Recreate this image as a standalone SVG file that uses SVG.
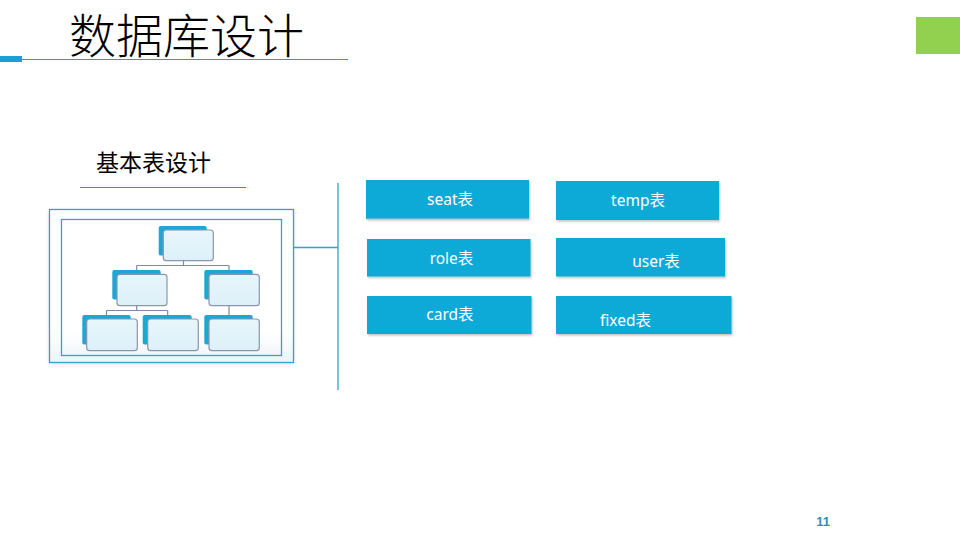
<svg xmlns="http://www.w3.org/2000/svg" width="960" height="540" viewBox="0 0 960 540">
<defs>
<style>
.cjk{font-family:"Noto Sans CJK SC","Noto Sans",sans-serif;}
.btn rect{fill:#0aaad8;}
.btn text{font-family:"Noto Sans","Noto Sans CJK SC",sans-serif;font-size:15.5px;fill:#ffffff;text-anchor:middle;}
.back{fill:#1ea7d4;}
.front{fill:url(#boxg);stroke:#8a96b0;stroke-width:1.2;}
.org{fill:none;stroke:#7a8aa8;stroke-width:1.2;}
.frame{fill:none;stroke:#2fa4cc;stroke-width:1.3;}
.conn{fill:none;stroke:#2aa4d0;stroke-width:1.3;}
</style>
<linearGradient id="boxg" x1="0" y1="0" x2="0" y2="1">
<stop offset="0" stop-color="#e8f5fb"/>
<stop offset="1" stop-color="#ddf0f9"/>
</linearGradient>
<linearGradient id="frameg" x1="0" y1="0" x2="0" y2="1">
<stop offset="0" stop-color="#ffffff"/>
<stop offset="0.8" stop-color="#ffffff"/>
<stop offset="1" stop-color="#eef3f7"/>
</linearGradient>
<filter id="sh" x="-10%" y="-10%" width="130%" height="140%">
<feDropShadow dx="1" dy="1.5" stdDeviation="1.2" flood-color="#000" flood-opacity="0.25"/>
</filter>
<filter id="fsh" x="-5%" y="-5%" width="110%" height="112%">
<feDropShadow dx="0" dy="1" stdDeviation="2" flood-color="#000" flood-opacity="0.15"/>
</filter>
</defs>
<rect width="960" height="540" fill="#ffffff"/>

<g id="header">
<text class="cjk" x="69" y="53" font-size="47" font-weight="300" fill="#000000">数据库设计</text>
<rect x="0" y="56" width="22" height="6" fill="#1ba0d6"/>
<line x1="22" y1="59.5" x2="348" y2="59.5" stroke="#1ba0d6" stroke-width="1.2"/>
<rect x="916" y="17" width="44" height="37" fill="#92d050"/>
</g>

<g id="subtitle">
<text class="cjk" x="96" y="171" font-size="23" fill="#000000">基本表设计</text>
<line x1="80" y1="187.5" x2="246" y2="187.5" stroke="#3a90b8" stroke-width="1"/>
</g>

<g id="orgframe">
<rect x="49.5" y="209.5" width="244" height="153" fill="url(#frameg)" filter="url(#fsh)"/>
<rect class="frame" x="49.5" y="209.5" width="244" height="153"/>
<rect class="frame" x="61.5" y="219.5" width="220" height="136"/>
<g id="orgchart">
<path class="org" d="M183.5 260.7V265.5M136.7 265.5H229M136.7 265.5V270M229 265.5V270M136.7 305.7V310.5M106.5 310.5H167.7M106.5 310.5V315M167.7 310.5V315M229 305.7V315"/>
<rect class="back" x="158.7" y="226" width="48" height="29.5" rx="2"/>
<rect class="front" x="163.3" y="230" width="50" height="30.7" rx="3"/>
<rect class="back" x="112.3" y="270" width="48.4" height="29.5" rx="2"/>
<rect class="front" x="117" y="274.3" width="50" height="31.4" rx="3"/>
<rect class="back" x="204.3" y="270" width="48.4" height="29.5" rx="2"/>
<rect class="front" x="209" y="274.3" width="50.3" height="31.4" rx="3"/>
<rect class="back" x="82.3" y="315" width="48.4" height="29.5" rx="2"/>
<rect class="front" x="86.7" y="319" width="50.6" height="31.7" rx="3"/>
<rect class="back" x="142.7" y="315" width="49" height="29.5" rx="2"/>
<rect class="front" x="147.7" y="319" width="50.6" height="31.7" rx="3"/>
<rect class="back" x="204.3" y="315" width="48.4" height="29.5" rx="2"/>
<rect class="front" x="209" y="319" width="50.3" height="31.7" rx="3"/>
</g>
</g>

<g id="connectors">
<line class="conn" x1="293.5" y1="247.5" x2="338" y2="247.5"/>
<line class="conn" x1="338" y1="183" x2="338" y2="390"/>
</g>

<g id="seat" class="btn">
<rect x="366" y="180" width="163" height="39" filter="url(#sh)"/>
<line x1="367" y1="219" x2="529" y2="219" stroke="#b8c4d0" stroke-width="1"/>
<text x="450" y="205">seat表</text>
</g>
<g id="temp" class="btn">
<rect x="556" y="181" width="163" height="39" filter="url(#sh)"/>
<text x="638" y="206">temp表</text>
</g>
<g id="role" class="btn">
<rect x="367" y="239" width="163.5" height="37.5" filter="url(#sh)"/>
<text x="451.5" y="263.5">role表</text>
</g>
<g id="user" class="btn">
<rect x="556" y="238" width="169" height="38.5" filter="url(#sh)"/>
<text x="656" y="266.5">user表</text>
</g>
<g id="card" class="btn">
<rect x="367" y="296" width="164.5" height="38" filter="url(#sh)"/>
<text x="450" y="320">card表</text>
</g>
<g id="fixed" class="btn">
<rect x="556" y="296" width="175.5" height="38" filter="url(#sh)"/>
<text x="625.5" y="325.5">fixed表</text>
</g>

<text x="823" y="526" font-family="Liberation Sans, sans-serif" font-size="13" font-weight="bold" fill="#2e8fb8" text-anchor="middle">11</text>
</svg>
